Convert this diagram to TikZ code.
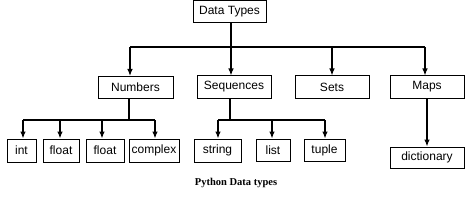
\documentclass[tikz,border=0pt]{standalone}
\usepackage{fontspec}
\setmainfont{Liberation Sans}
\newfontfamily\capfont{Liberation Serif}
\usetikzlibrary{arrows.meta}
\begin{document}
\begin{tikzpicture}[x=1pt,y=1pt,
  box/.style={draw,line width=1pt,inner sep=0pt,minimum height=22pt,font=\fontsize{12}{13}\selectfont},
  ln/.style={line width=1.2pt},
  arr/.style={line width=1.2pt,-{Latex[length=7pt,width=5.5pt]}}]
\useasboundingbox (0,0) rectangle (474,-222);
\node[box,minimum width=73pt,minimum height=22pt] (dt) at (229.5,-11.2) {Data Types};
\node[box,minimum width=75pt] (num) at (135.5,-87.5) {Numbers};
\node[box,minimum width=74pt] (seq) at (234,-87) {Sequences};
\node[box,minimum width=74pt] (sets) at (332,-87) {Sets};
\node[box,minimum width=74pt] (maps) at (427,-87) {Maps};
\node[box,minimum width=29pt,minimum height=23pt] (int) at (21.5,-150.5) {int};
\node[box,minimum width=36pt,minimum height=23pt] (fl1) at (61,-150.5) {float};
\node[box,minimum width=38pt,minimum height=23pt] (fl2) at (105,-150.5) {float};
\node[box,minimum width=50pt,minimum height=23pt] (cx) at (154,-150.5) {complex};
\node[box,minimum width=47pt,minimum height=23pt] (str) at (217.5,-150.5) {string};
\node[box,minimum width=34pt,minimum height=22pt] (lst) at (273,-150) {list};
\node[box,minimum width=41pt,minimum height=22pt] (tup) at (324.5,-150) {tuple};
\node[box,minimum width=74pt,minimum height=21pt] (dict) at (427,-157.5) {dictionary};
\node[font=\capfont\bfseries\fontsize{10.5}{12}\selectfont] (cap) at (236,-183) {Python Data types};
% level 1
\coordinate (b1) at (231,-47);
\coordinate (bL) at (130,-47);
\coordinate (bS) at (332,-47);
\coordinate (bR) at (425,-47);
\draw[ln] (dt.south -| b1) -- (b1);
\draw[ln] (bL) -- (bR);
\draw[arr] (bL) -- (bL |- num.north);
\draw[arr] (b1) -- (b1 |- seq.north);
\draw[arr] (bS) -- (sets.north);
\draw[arr] (bR) -- (bR |- maps.north);
% numbers
\coordinate (n1) at (129,-120);
\coordinate (nL) at (23,-120);
\coordinate (n2) at (60,-120);
\coordinate (n3) at (102,-120);
\coordinate (nR) at (155,-120);
\draw[ln] (num.south -| n1) -- (n1);
\draw[ln] (nL) -- (nR);
\draw[arr] (nL) -- (nL |- int.north);
\draw[arr] (n2) -- (n2 |- fl1.north);
\draw[arr] (n3) -- (n3 |- fl2.north);
\draw[arr] (nR) -- (nR |- cx.north);
% sequences
\coordinate (s1) at (230,-120);
\coordinate (sL) at (218,-120);
\coordinate (s2) at (272,-120);
\coordinate (sR) at (325,-120);
\draw[ln] (seq.south -| s1) -- (s1);
\draw[ln] (sL) -- (sR);
\draw[arr] (sL) -- (sL |- str.north);
\draw[arr] (s2) -- (s2 |- lst.north);
\draw[arr] (sR) -- (sR |- tup.north);
% maps
\draw[arr] (maps.south) -- (dict.north);
\end{tikzpicture}
\end{document}
